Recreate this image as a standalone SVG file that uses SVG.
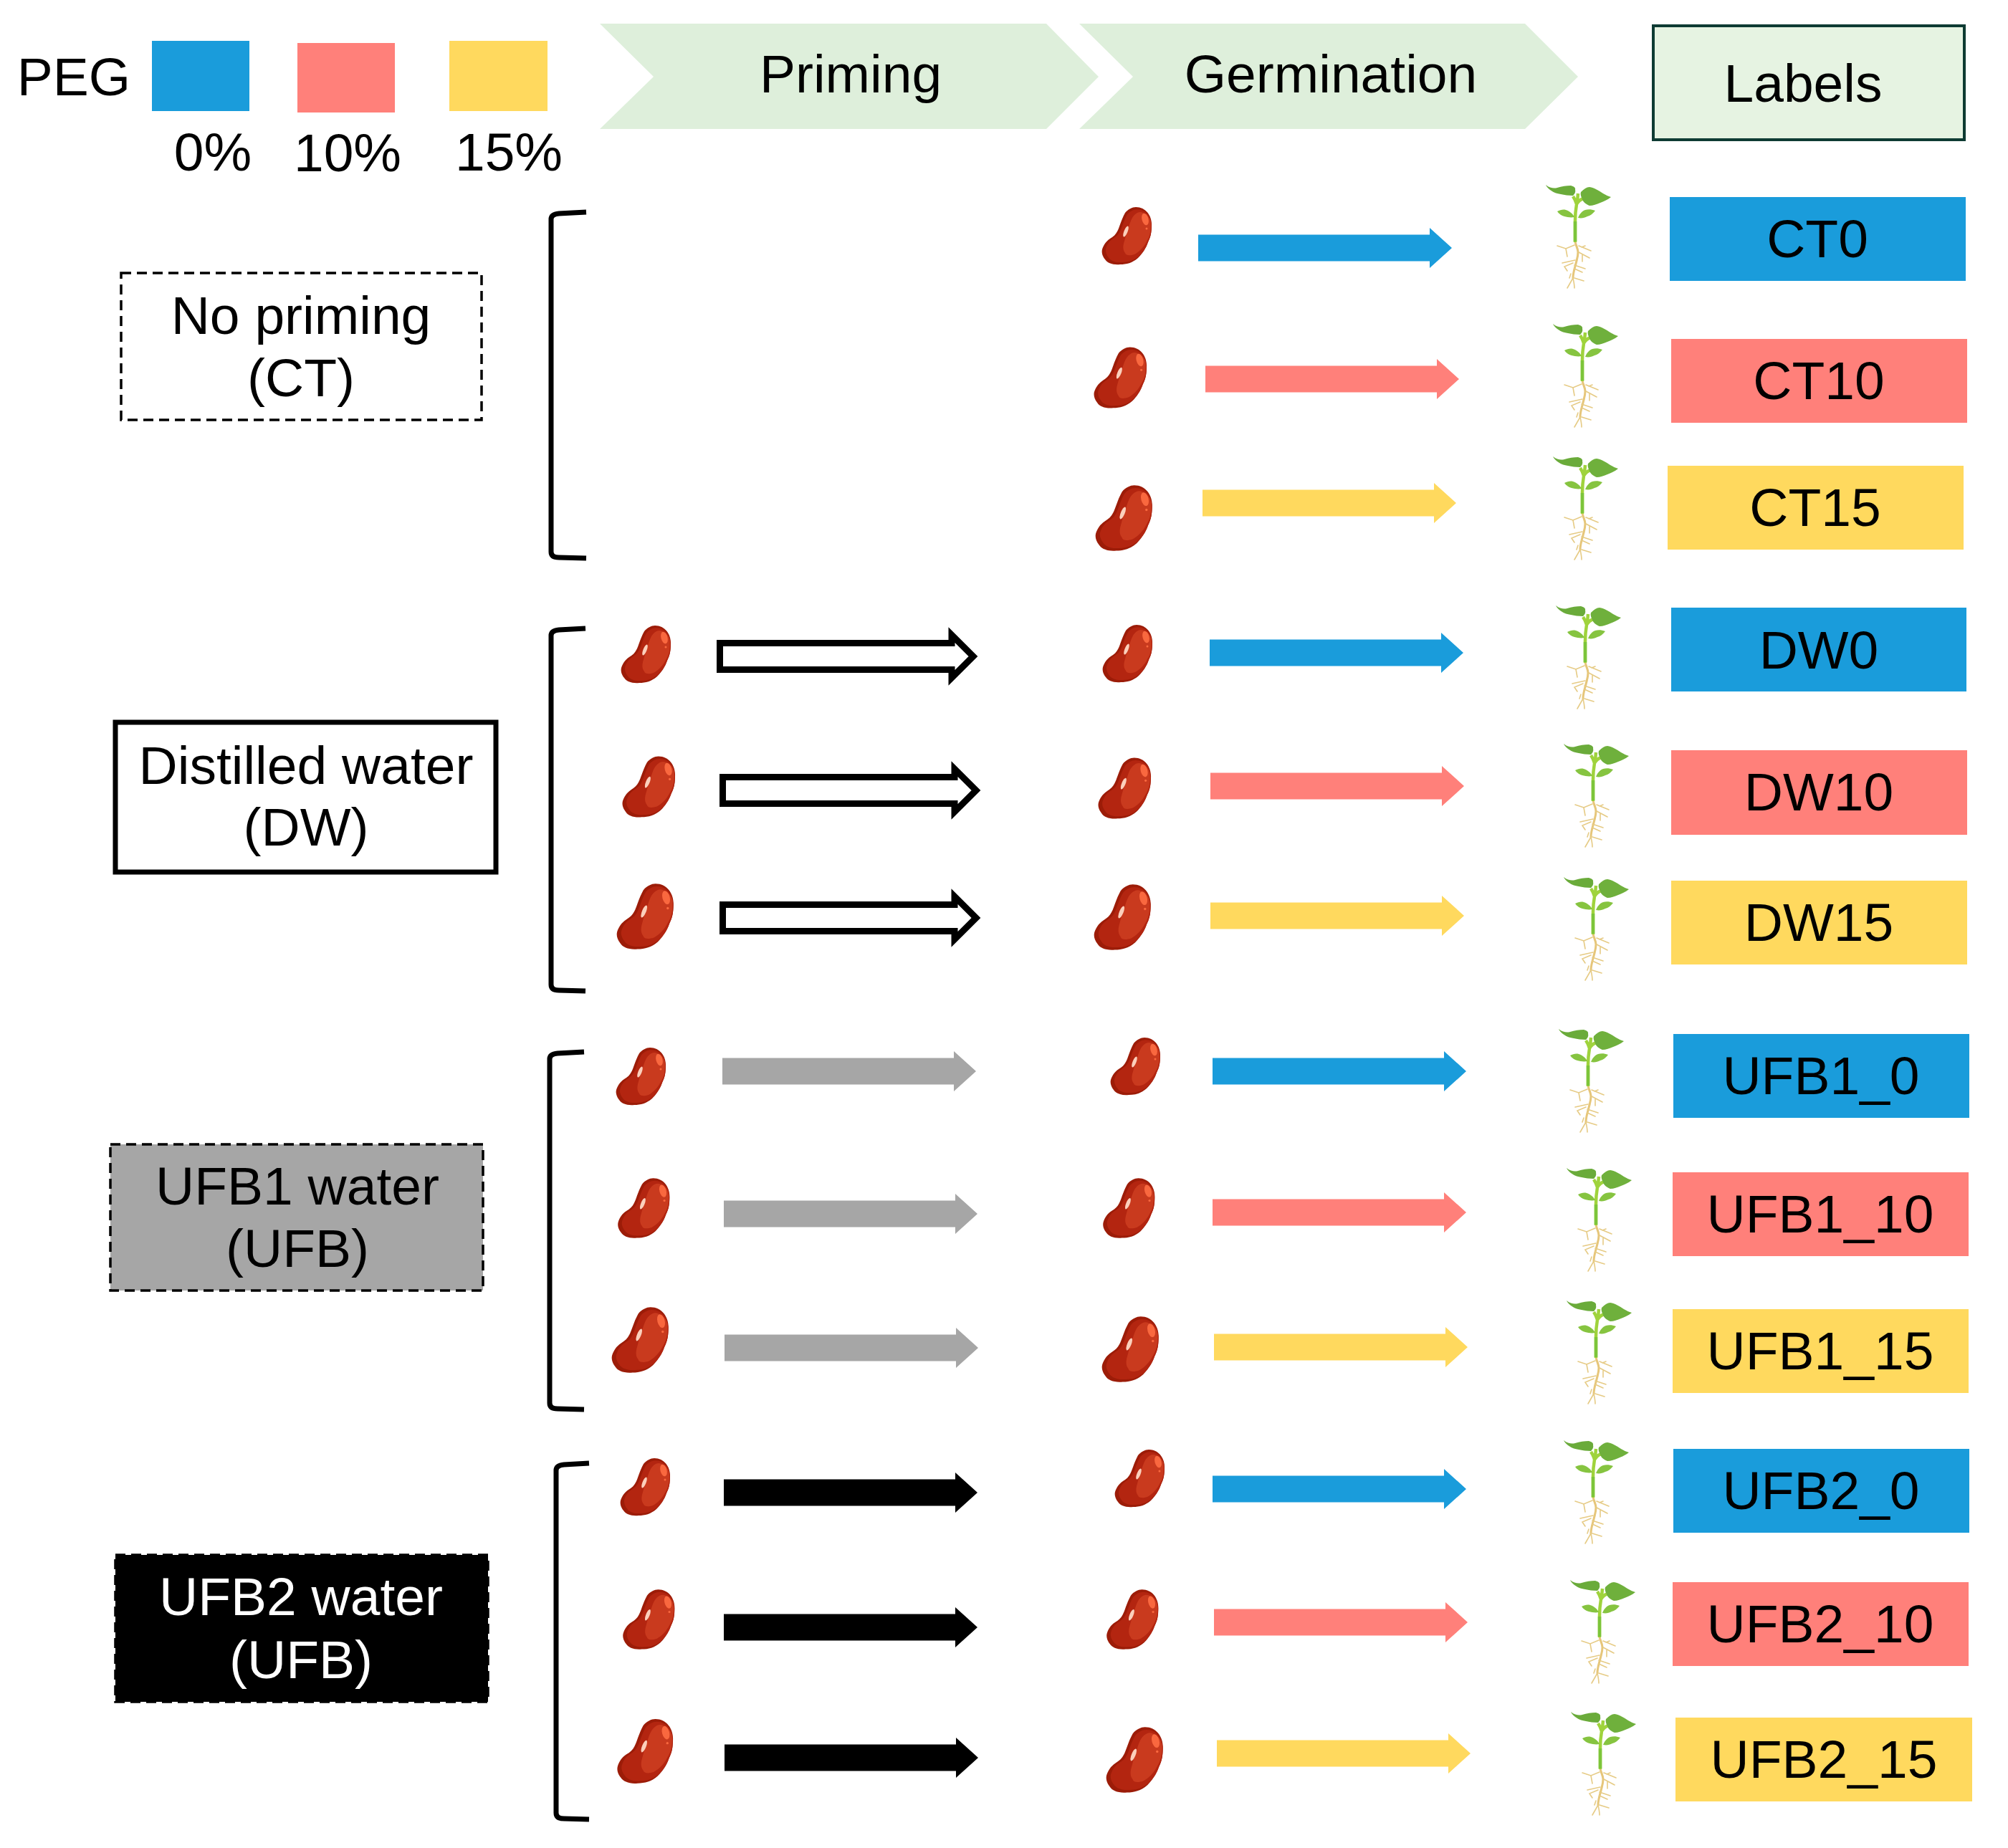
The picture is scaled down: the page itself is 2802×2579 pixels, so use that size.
<svg xmlns="http://www.w3.org/2000/svg" width="2802" height="2579" viewBox="0 0 2802 2579">
<style>
text{font-family:"Liberation Sans",Arial,sans-serif;font-size:75px;fill:#000;text-anchor:middle}
.blue{fill:#1a9cdb}.red{fill:#ff807a}.yel{fill:#ffd95e}.gray{fill:#a6a6a6}.blk{fill:#000}
.hollow{fill:#fff;stroke:#000;stroke-width:9;stroke-linejoin:miter}
.br{fill:none;stroke:#000;stroke-width:7}
.chev{fill:#deefdb}
.dash{stroke:#000;stroke-width:3.500;stroke-dasharray:14 8}
.root{fill:none;stroke:#e6cb85;stroke-width:1.600;stroke-linecap:round}
</style>
<defs>
<path id="arr" d="M0-18.500H323V-28L354 0 323 28V18.500H0Z"/>
<path id="harr" d="M4.500-18.500H328V-30L358 0 328 30V18.500H4.500Z"/>
<path id="bean-shape" d="M-3-33C1-38 7-41 12-41 26-41 34-29 34-17 34-6 33 0 29 8 26 17 21 24 15 30 7 37-1 39-10 39-20 40-28 37-31 32-35 27-36 22-35 18-33 12-30 7-24 3-19 0-16-3-14-7-11-12-9-22-3-33Z"/>
<g id="bean">
<use href="#bean-shape" fill="#9c1c08"/>
<use href="#bean-shape" fill="#b32510" transform="translate(2.500 0) scale(.92)"/>
<path fill="#c93a1e" d="M10-30C14-34 18-35 22-33 29-30 33-24 33-17 33-6 31 1 27 7 23 15 17 21 10 25 4 27-2 27-3 23-6 19-6 15-5 10-3 3-1-6 2-13 4-20 6-26 10-30Z"/>
<ellipse fill="#f9683f" cx="25" cy="-24" rx="4.500" ry="8.500" transform="rotate(-15 25 -24)"/>
<circle fill="#f9683f" cx="27" cy="-11" r="1.500"/>
<ellipse fill="#fbd0bc" cx="-2" cy="-7" rx="2.500" ry="8" transform="rotate(22 -2 -7)"/>
</g>
<g id="plant">
<path fill="none" stroke="#e6c67a" stroke-width="3" stroke-linecap="round" d="M-1 80C0 86 3 90 3 95 3 102 1 106 0 111-2 118-4 124-4 131"/>
<path class="root" d="M-4 131C-3 136-2 140-2 145M-2 85L-14 90-26 86M-14 90L-12 101M4 86L21 93M8 88L13 86M4 95L19 103M9 99L9 108M-1 106L-19 110M-4 110L-16 115-12 121M-2 113L13 118M-2 118L9 123M-2 131L11 135M-4 131L-12 145M-7 125L-9 131"/>
<path fill="none" stroke="#9fd33c" stroke-width="4.500" d="M-1 81V51C-1 42 0 34 1 28M1 28C0 24-2 20-4 17M1 28C3 24 7 21 11 20M2 24L3 13"/>
<path fill="none" stroke="#7cc53a" stroke-width="4.500" d="M-1 80V52"/>
<path fill="#6aab3a" d="M-42 1C-36 6-30 6-26 5-20 3-13 2-7 2-3 3 0 5-1 8 0 11-2 14-4 16-10 16-16 15-21 14-28 13-32 11-36 8-39 6-41 3-42 1Z"/>
<path fill="#6fb03c" d="M7 11C11 7 15 4 19 4 26 5 32 9 38 13 42 15 45 17 49 18 44 22 39 24 34 26 29 28 24 30 19 30 14 28 10 25 9 21 7 17 6 14 7 11Z"/>
<path fill="#86c440" d="M-26 38C-22 36-18 35-14 36-8 38-4 42-2 46-7 47-12 46-16 45-20 44-24 41-26 38Z"/>
<path fill="#86c440" d="M27 37C22 35 17 35 13 36 8 38 5 42 3 47 8 48 12 47 16 45 20 44 24 41 27 37Z"/>
</g>
</defs>

<g id="legend">
<text x="103" y="133">PEG</text>
<rect class="blue" x="212" y="57" width="136" height="98"/>
<rect class="red" x="415" y="60" width="136" height="97"/>
<rect class="yel" x="627" y="57" width="137" height="98"/>
<text x="297" y="238">0%</text><text x="485" y="239">10%</text><text x="710" y="238">15%</text>
</g>

<g id="stage-priming"><path class="chev" d="M837 33H1460L1533 107 1460 180H837L912 107Z"/><text x="1187" y="129">Priming</text></g>
<g id="stage-germination"><path class="chev" d="M1506 33H2128L2202 107 2128 180H1506L1581 107Z"/><text x="1857" y="129">Germination</text></g>
<g id="labels-header"><rect x="2307" y="36" width="434" height="159" fill="#e6f3e2" stroke="#0e3b33" stroke-width="4"/><text x="2516" y="142">Labels</text></g>

<g id="node-ct"><rect class="dash" x="169" y="381" width="503" height="205" fill="#fff"/><text x="420" y="466">No priming</text><text x="420" y="553">(CT)</text></g>
<g id="node-dw"><rect x="161" y="1008" width="531" height="209" fill="#fff" stroke="#000" stroke-width="7"/><text x="427" y="1094">Distilled water</text><text x="427" y="1180">(DW)</text></g>
<g id="node-ufb1"><rect class="dash" x="154" y="1597" width="520" height="204" fill="#a6a6a6"/><text x="415" y="1681">UFB1 water</text><text x="415" y="1768">(UFB)</text></g>
<g id="node-ufb2"><rect class="dash" x="161" y="2170" width="520" height="205" fill="#000"/><text x="420" y="2254" style="fill:#fff">UFB2 water</text><text x="420" y="2342" style="fill:#fff">(UFB)</text></g>

<g id="brackets">
<path class="br" d="M818 296 780 298Q769 299 769 306V770Q769 778 780 778L818 779"/>
<path class="br" d="M817 877 780 879Q769 880 769 887V1374Q769 1382 780 1382L817 1383"/>
<path class="br" d="M815 1468 778 1470Q767 1471 767 1478V1958Q767 1966 778 1966L815 1967"/>
<path class="br" d="M822 2042 787 2044Q776 2045 776 2052V2530Q776 2538 787 2538L822 2539"/>
</g>

<g id="connectors">
<use href="#arr" class="blue" x="1672" y="346"/>
<use href="#arr" class="red" x="1682" y="529"/>
<use href="#arr" class="yel" x="1678" y="702"/>
<use href="#arr" class="blue" x="1688" y="911"/>
<use href="#arr" class="red" x="1689" y="1097"/>
<use href="#arr" class="yel" x="1689" y="1278"/>
<use href="#arr" class="blue" x="1692" y="1495"/>
<use href="#arr" class="red" x="1692" y="1692"/>
<use href="#arr" class="yel" x="1694" y="1880"/>
<use href="#arr" class="blue" x="1692" y="2078"/>
<use href="#arr" class="red" x="1694" y="2264"/>
<use href="#arr" class="yel" x="1698" y="2447"/>
<use href="#harr" class="hollow" x="1000" y="916"/>
<use href="#harr" class="hollow" x="1004" y="1103"/>
<use href="#harr" class="hollow" x="1004" y="1281"/>
<use href="#arr" class="gray" x="1008" y="1495"/>
<use href="#arr" class="gray" x="1010" y="1694"/>
<use href="#arr" class="gray" x="1011" y="1881"/>
<use href="#arr" class="blk" x="1010" y="2083"/>
<use href="#arr" class="blk" x="1010" y="2271"/>
<use href="#arr" class="blk" x="1011" y="2453"/>
</g>

<g id="seeds">
<use href="#bean" transform="translate(1573 330)"/>
<use href="#bean" transform="translate(1564 528) scale(1.06)"/>
<use href="#bean" transform="translate(1569 724) scale(1.14)"/>
<use href="#bean" transform="translate(1574 913)"/>
<use href="#bean" transform="translate(1570 1101) scale(1.06)"/>
<use href="#bean" transform="translate(1567 1281) scale(1.14)"/>
<use href="#bean" transform="translate(1585 1489)"/>
<use href="#bean" transform="translate(1576 1687) scale(1.04)"/>
<use href="#bean" transform="translate(1578 1884) scale(1.14)"/>
<use href="#bean" transform="translate(1591 2064)"/>
<use href="#bean" transform="translate(1581 2261) scale(1.04)"/>
<use href="#bean" transform="translate(1584 2457) scale(1.14)"/>
<use href="#bean" transform="translate(902 914)"/>
<use href="#bean" transform="translate(906 1099) scale(1.06)"/>
<use href="#bean" transform="translate(901 1280) scale(1.14)"/>
<use href="#bean" transform="translate(895 1503)"/>
<use href="#bean" transform="translate(899 1687) scale(1.04)"/>
<use href="#bean" transform="translate(894 1871) scale(1.14)"/>
<use href="#bean" transform="translate(901 2076)"/>
<use href="#bean" transform="translate(906 2261) scale(1.04)"/>
<use href="#bean" transform="translate(901 2445) scale(1.12)"/>
</g>

<g id="seedlings">
<use href="#plant" x="2199" y="257"/>
<use href="#plant" x="2209" y="451"/>
<use href="#plant" x="2209" y="636"/>
<use href="#plant" x="2213" y="844"/>
<use href="#plant" x="2224" y="1037"/>
<use href="#plant" x="2224" y="1223"/>
<use href="#plant" x="2217" y="1435"/>
<use href="#plant" x="2228" y="1629"/>
<use href="#plant" x="2228" y="1814"/>
<use href="#plant" x="2224" y="2009"/>
<use href="#plant" x="2233" y="2204"/>
<use href="#plant" x="2234" y="2388"/>
</g>

<g id="label-ct0"><rect class="blue" x="2330" y="275" width="413" height="117"/><text x="2536" y="359">CT0</text></g>
<g id="label-ct10"><rect class="red" x="2332" y="473" width="413" height="117"/><text x="2538" y="557">CT10</text></g>
<g id="label-ct15"><rect class="yel" x="2327" y="650" width="413" height="117"/><text x="2533" y="734">CT15</text></g>
<g id="label-dw0"><rect class="blue" x="2332" y="848" width="412" height="117"/><text x="2538" y="933">DW0</text></g>
<g id="label-dw10"><rect class="red" x="2332" y="1047" width="413" height="118"/><text x="2538" y="1131">DW10</text></g>
<g id="label-dw15"><rect class="yel" x="2332" y="1229" width="413" height="117"/><text x="2538" y="1313">DW15</text></g>
<g id="label-ufb1-0"><rect class="blue" x="2335" y="1443" width="413" height="117"/><text x="2541" y="1527">UFB1_0</text></g>
<g id="label-ufb1-10"><rect class="red" x="2334" y="1636" width="413" height="117"/><text x="2540" y="1720">UFB1_10</text></g>
<g id="label-ufb1-15"><rect class="yel" x="2334" y="1827" width="413" height="117"/><text x="2540" y="1911">UFB1_15</text></g>
<g id="label-ufb2-0"><rect class="blue" x="2335" y="2022" width="413" height="117"/><text x="2541" y="2106">UFB2_0</text></g>
<g id="label-ufb2-10"><rect class="red" x="2334" y="2208" width="413" height="117"/><text x="2540" y="2292">UFB2_10</text></g>
<g id="label-ufb2-15"><rect class="yel" x="2338" y="2397" width="414" height="117"/><text x="2545" y="2481">UFB2_15</text></g>
</svg>
